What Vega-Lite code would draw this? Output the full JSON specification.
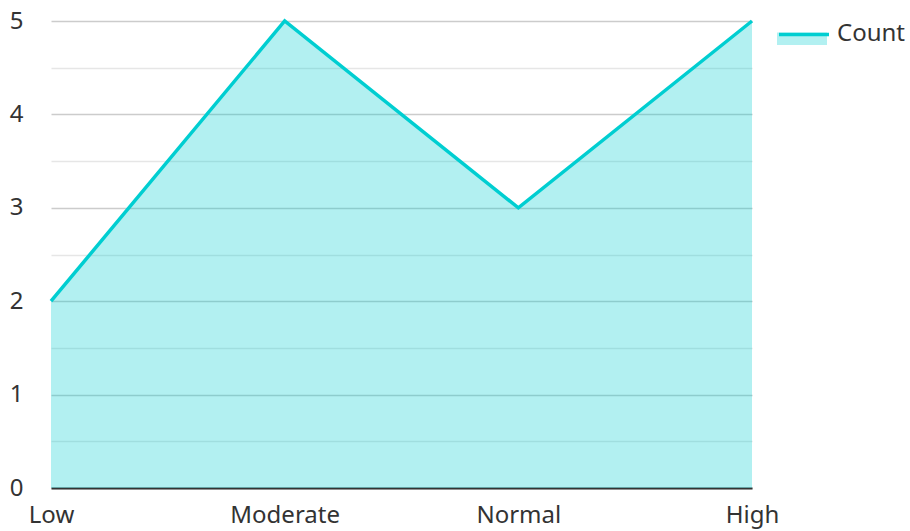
{
  "$schema": "https://vega.github.io/schema/vega-lite/v6.json",
  "width": 701,
  "height": 467,
  "autosize": {"type": "none"},
  "padding": {"left": 51, "top": 21, "right": 158, "bottom": 43},
  "config": {
    "view": {"stroke": null},
    "font": "Noto Sans",
    "axis": {"labelFont": "Noto Sans", "labelColor": "#333333"},
    "legend": {"labelFont": "Noto Sans", "padding": 0}
  },
  "data": {
    "values": [
      {"level": "Low", "count": 2, "series": "Count"},
      {"level": "Moderate", "count": 5, "series": "Count"},
      {"level": "Normal", "count": 3, "series": "Count"},
      {"level": "High", "count": 5, "series": "Count"}
    ]
  },
  "encoding": {
    "x": {
      "field": "level",
      "type": "ordinal",
      "sort": null,
      "scale": {"type": "point", "padding": 0},
      "axis": {
        "title": null,
        "labelAngle": 0,
        "labelFontSize": 24,
        "labelPadding": 15,
        "ticks": false,
        "grid": false,
        "domain": true,
        "domainColor": "#333333",
        "domainWidth": 2
      }
    },
    "y": {
      "field": "count",
      "type": "quantitative",
      "scale": {"domain": [0, 5], "nice": false},
      "axis": {
        "title": null,
        "values": [0, 0.5, 1, 1.5, 2, 2.5, 3, 3.5, 4, 4.5, 5],
        "labelExpr": "datum.value % 1 === 0 ? format(datum.value, 'd') : ''",
        "labelFontSize": 24,
        "labelPadding": 28,
        "ticks": false,
        "domain": false,
        "grid": true,
        "gridWidth": 1.5,
        "gridColor": {"condition": {"test": "datum.value % 1 === 0", "value": "#cccccc"}, "value": "#e6e6e6"}
      }
    }
  },
  "layer": [
    {
      "mark": {"type": "area", "color": "#00CED1", "fillOpacity": 0.3},
      "encoding": {
        "fill": {
          "field": "series",
          "type": "nominal",
          "scale": {"range": ["#00CED1"]},
          "legend": {
            "title": null,
            "orient": "none",
            "legendX": 726,
            "legendY": -12,
            "symbolType": "M-1,-0.06H1V0.44H-1Z",
            "symbolSize": 2500,
            "symbolOpacity": 0.3,
            "symbolStrokeWidth": 0,
            "labelFontSize": 24,
            "labelOffset": 10,
            "labelColor": "#333333"
          }
        }
      }
    },
    {
      "mark": {"type": "line", "color": "#00CED1", "strokeWidth": 3.5},
      "encoding": {
        "stroke": {
          "field": "series",
          "type": "nominal",
          "scale": {"range": ["#00CED1"]},
          "legend": {
            "title": null,
            "orient": "none",
            "legendX": 726,
            "legendY": -12,
            "symbolType": "M-1,-0.06H1",
            "symbolSize": 2500,
            "symbolStrokeWidth": 3.5,
            "labelFontSize": 24,
            "labelOffset": 10,
            "labelExpr": "''"
          }
        }
      }
    }
  ],
  "resolve": {"legend": {"fill": "independent", "stroke": "independent"}}
}
